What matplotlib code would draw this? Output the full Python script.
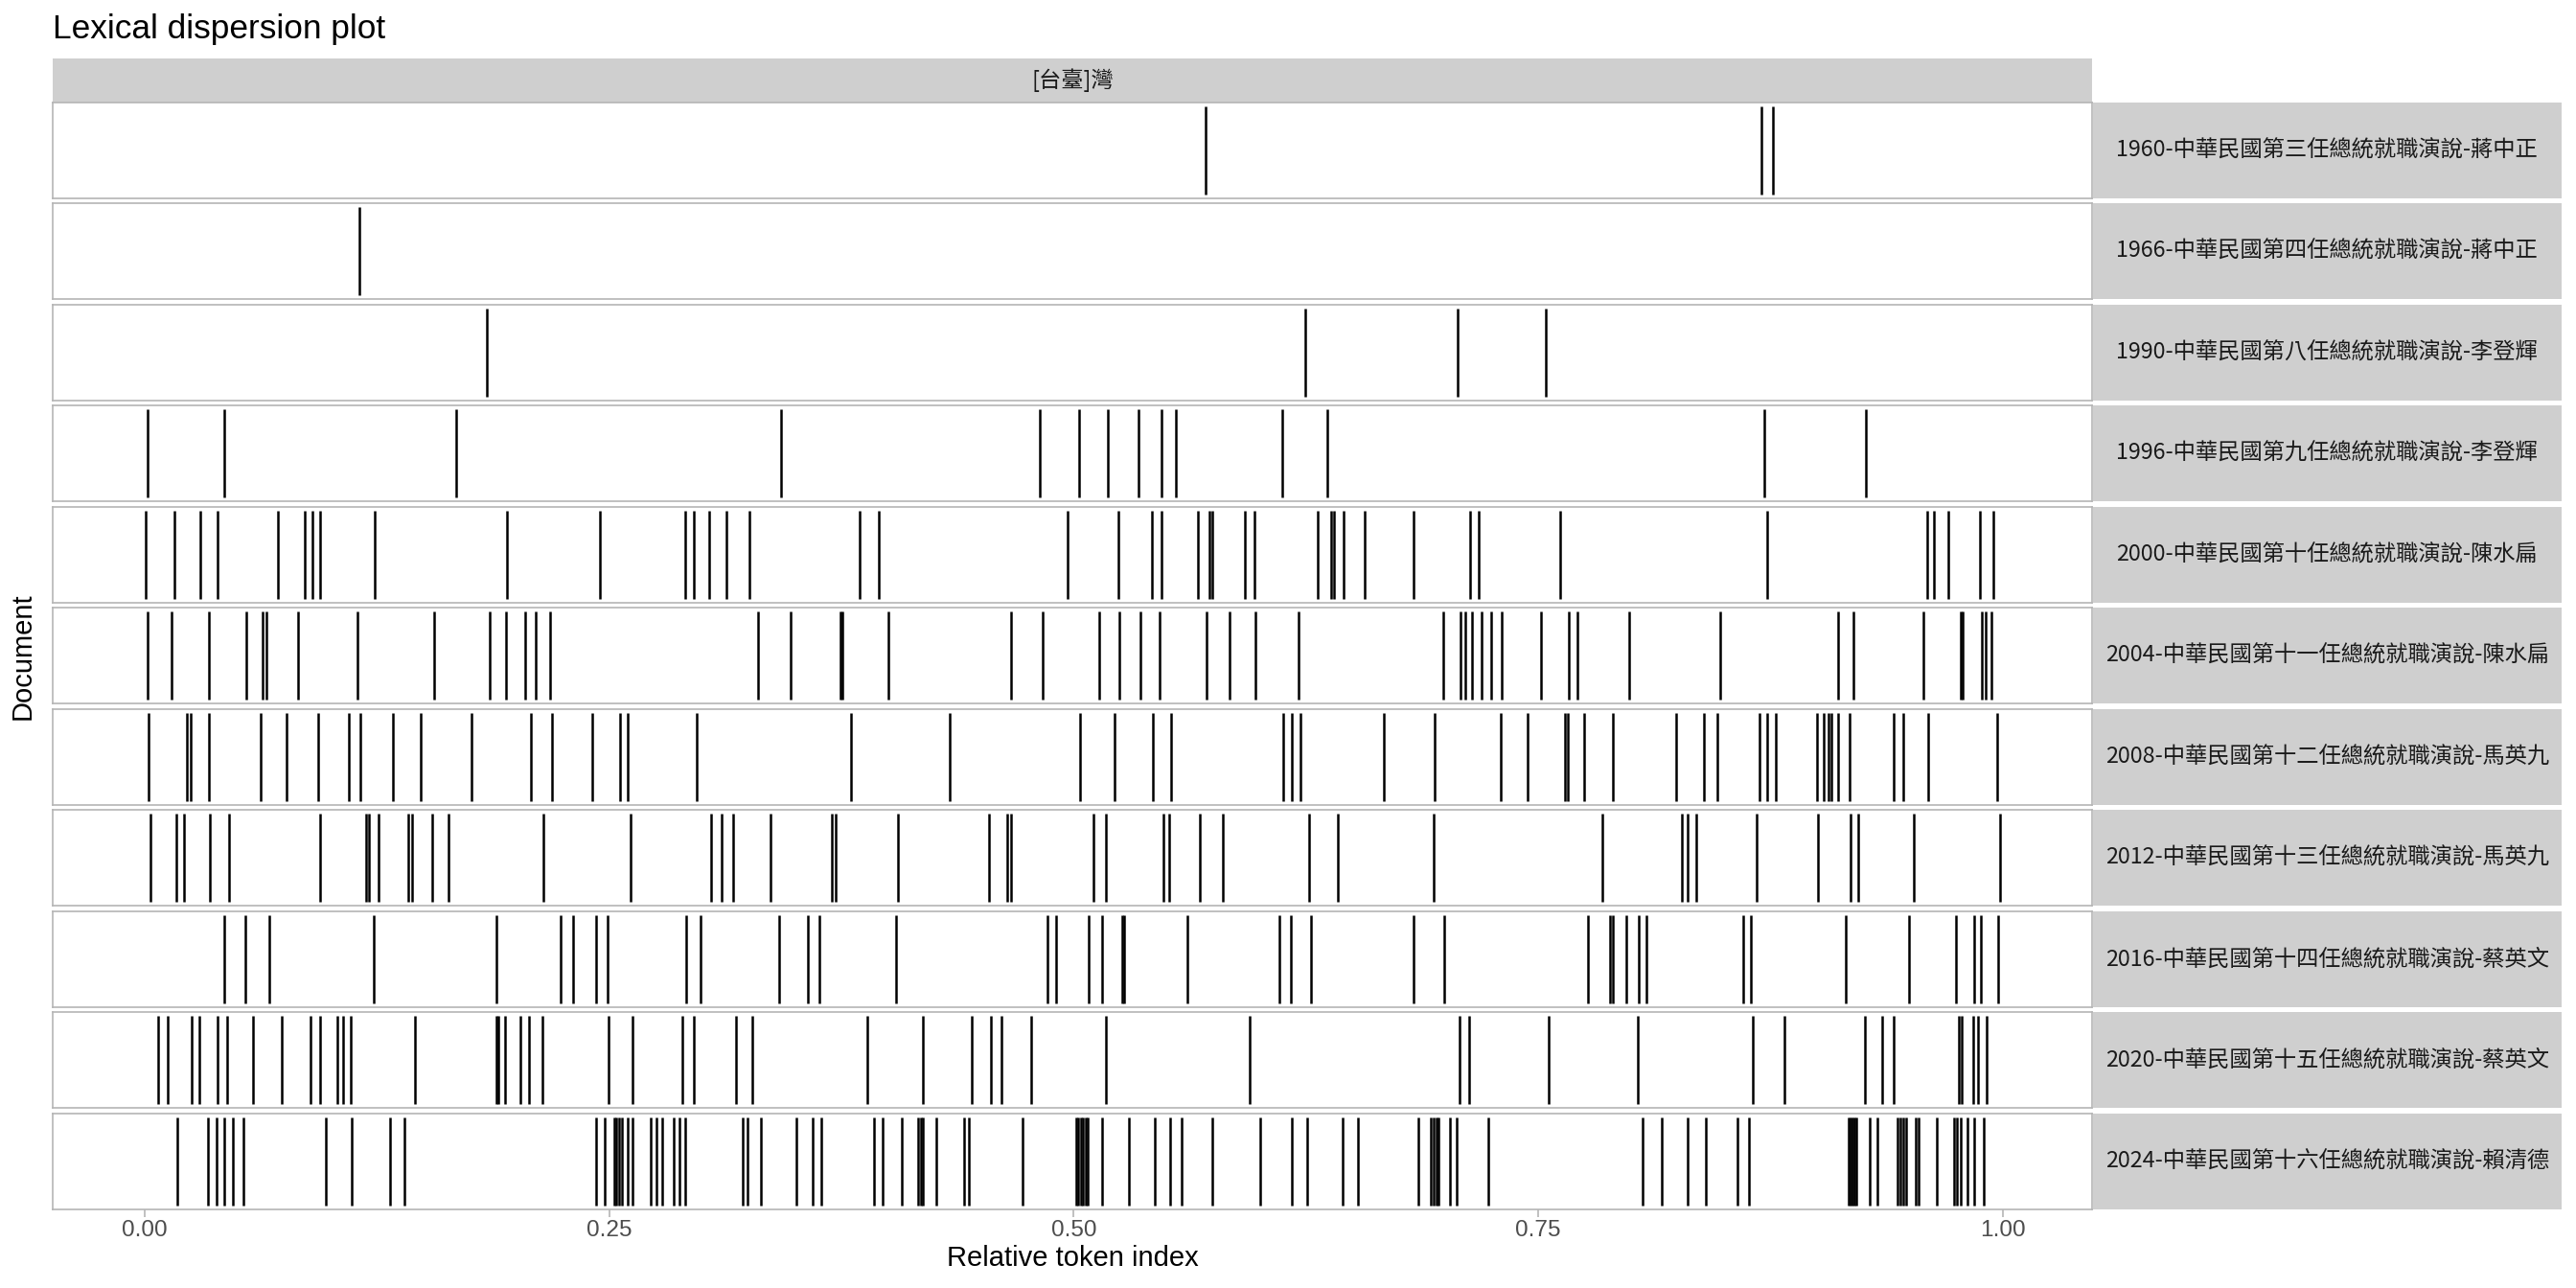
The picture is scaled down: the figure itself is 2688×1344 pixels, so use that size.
import matplotlib
matplotlib.use("Agg")
import matplotlib.pyplot as plt

#### Document labels (right strips) and the search pattern (top strip)
docs = [
    "1960-中華民國第三任總統就職演說-蔣中正",
    "1966-中華民國第四任總統就職演說-蔣中正",
    "1990-中華民國第八任總統就職演說-李登輝",
    "1996-中華民國第九任總統就職演說-李登輝",
    "2000-中華民國第十任總統就職演說-陳水扁",
    "2004-中華民國第十一任總統就職演說-陳水扁",
    "2008-中華民國第十二任總統就職演說-馬英九",
    "2012-中華民國第十三任總統就職演說-馬英九",
    "2016-中華民國第十四任總統就職演說-蔡英文",
    "2020-中華民國第十五任總統就職演說-蔡英文",
    "2024-中華民國第十六任總統就職演說-賴清德",
]
pattern = "[台臺]灣"

#### Relative token index of every hit, one list per speech
pos_1960 = [0.5709, 0.8701, 0.8763]
pos_1966 = [0.1156]
pos_1990 = [0.1843, 0.6247, 0.7067, 0.7542]
pos_1996 = [0.0017, 0.0429, 0.1676, 0.3426, 0.4817, 0.5031, 0.5182, 0.5351,
            0.5472, 0.5553, 0.6123, 0.6363, 0.8716, 0.9262]
pos_2000 = [0.0007, 0.0160, 0.0300, 0.0391, 0.0716, 0.0863, 0.0906, 0.0944,
            0.1241, 0.1951, 0.2449, 0.2911, 0.2957, 0.3038, 0.3130, 0.3256,
            0.3846, 0.3950, 0.4966, 0.5241, 0.5423, 0.5475, 0.5671, 0.5729,
            0.5745, 0.5921, 0.5974, 0.6312, 0.6387, 0.6403, 0.6452, 0.6566,
            0.6832, 0.7136, 0.7182, 0.7617, 0.8731, 0.9594, 0.9630, 0.9705,
            0.9880, 0.9949]
pos_2004 = [0.0017, 0.0147, 0.0349, 0.0548, 0.0638, 0.0658, 0.0828, 0.1146,
            0.1557, 0.1859, 0.1947, 0.2051, 0.2107, 0.2185, 0.3302, 0.3478,
            0.3745, 0.3758, 0.4005, 0.4666, 0.4835, 0.5140, 0.5244, 0.5358,
            0.5465, 0.5714, 0.5840, 0.5977, 0.6211, 0.6989, 0.7080, 0.7110,
            0.7143, 0.7195, 0.7249, 0.7305, 0.7517, 0.7663, 0.7712, 0.7988,
            0.8481, 0.9115, 0.9196, 0.9571, 0.9777, 0.9783, 0.9890, 0.9906,
            0.9939]
pos_2008 = [0.0023, 0.0228, 0.0247, 0.0349, 0.0625, 0.0762, 0.0937, 0.1101,
            0.1160, 0.1335, 0.1485, 0.1762, 0.2077, 0.2192, 0.2409, 0.2559,
            0.2602, 0.2973, 0.3800, 0.4334, 0.5033, 0.5218, 0.5426, 0.5524,
            0.6129, 0.6172, 0.6220, 0.6670, 0.6943, 0.7301, 0.7445, 0.7646,
            0.7660, 0.7748, 0.7904, 0.8243, 0.8392, 0.8467, 0.8692, 0.8731,
            0.8780, 0.9002, 0.9036, 0.9063, 0.9079, 0.9115, 0.9174, 0.9414,
            0.9466, 0.9597, 0.9972]
pos_2012 = [0.0033, 0.0173, 0.0215, 0.0352, 0.0453, 0.0947, 0.1195, 0.1208,
            0.1257, 0.1420, 0.1439, 0.1550, 0.1635, 0.2149, 0.2618, 0.3048,
            0.3104, 0.3168, 0.3367, 0.3699, 0.3719, 0.4057, 0.4546, 0.4643,
            0.4666, 0.5107, 0.5173, 0.5485, 0.5514, 0.5677, 0.5804, 0.6266,
            0.6423, 0.6937, 0.7846, 0.8273, 0.8305, 0.8353, 0.8676, 0.9008,
            0.9180, 0.9223, 0.9522, 0.9988]
pos_2016 = [0.0430, 0.0541, 0.0674, 0.1232, 0.1895, 0.2241, 0.2309, 0.2432,
            0.2494, 0.2914, 0.2993, 0.3416, 0.3568, 0.3630, 0.4044, 0.4858,
            0.4904, 0.5081, 0.5153, 0.5261, 0.5273, 0.5612, 0.6110, 0.6168,
            0.6276, 0.6832, 0.6996, 0.7770, 0.7888, 0.7904, 0.7972, 0.8044,
            0.8083, 0.8604, 0.8643, 0.9154, 0.9496, 0.9751, 0.9848, 0.9883,
            0.9978]
pos_2020 = [0.0075, 0.0124, 0.0254, 0.0293, 0.0391, 0.0443, 0.0583, 0.0739,
            0.0895, 0.0944, 0.1036, 0.1071, 0.1110, 0.1455, 0.1892, 0.1905,
            0.1938, 0.2022, 0.2068, 0.2139, 0.2497, 0.2628, 0.2895, 0.2957,
            0.3184, 0.3272, 0.3888, 0.4190, 0.4454, 0.4555, 0.4611, 0.4773,
            0.5172, 0.5947, 0.7077, 0.7129, 0.7555, 0.8034, 0.8655, 0.8828,
            0.9258, 0.9353, 0.9414, 0.9766, 0.9779, 0.9841, 0.9867, 0.9912]
pos_2024 = [0.0176, 0.0339, 0.0388, 0.0430, 0.0476, 0.0534, 0.0974, 0.1117,
            0.1322, 0.1400, 0.2432, 0.2478, 0.2527, 0.2539, 0.2553, 0.2569,
            0.2598, 0.2628, 0.2722, 0.2755, 0.2787, 0.2846, 0.2878, 0.2911,
            0.3220, 0.3243, 0.3315, 0.3506, 0.3595, 0.3644, 0.3927, 0.3972,
            0.4076, 0.4165, 0.4181, 0.4190, 0.4259, 0.4412, 0.4438, 0.4724,
            0.5012, 0.5026, 0.5039, 0.5052, 0.5064, 0.5078, 0.5153, 0.5296,
            0.5439, 0.5520, 0.5582, 0.5745, 0.6006, 0.6172, 0.6256, 0.6448,
            0.6530, 0.6855, 0.6921, 0.6937, 0.6953, 0.6966, 0.7028, 0.7063,
            0.7230, 0.8060, 0.8164, 0.8307, 0.8405, 0.8571, 0.8633, 0.9170,
            0.9180, 0.9190, 0.9200, 0.9213, 0.9284, 0.9326, 0.9434, 0.9450,
            0.9467, 0.9483, 0.9532, 0.9545, 0.9646, 0.9740, 0.9756, 0.9773,
            0.9812, 0.9847, 0.9899]

positions = [pos_1960, pos_1966, pos_1990, pos_1996, pos_2000, pos_2004,
             pos_2008, pos_2012, pos_2016, pos_2020, pos_2024]

xticks = [0.0, 0.25, 0.5, 0.75, 1.0]
xticklabels = ["0.00", "0.25", "0.50", "0.75", "1.00"]

#### Layout in pixels of the 2688x1344 canvas
W, H, DPI = 2688, 1344, 200
PANEL_L, PANEL_R, STRIP_R = 55, 2183, 2673
TOP0, PH, GAP = 106.7, 100.0, 5.5
STRIP_FILL = "#CFCFCF"
BORDER = "#B5B5B5"
latin = ["Liberation Sans", "DejaVu Sans"]
cjk = ["Noto Sans CJK TC", "DejaVu Sans"]


def box(x0, y0, x1, y1):
    return [x0 / W, 1 - y1 / H, (x1 - x0) / W, (y1 - y0) / H]


def strip(rect, label):
    ax = fig.add_axes(rect)
    ax.set_facecolor(STRIP_FILL)
    ax.set_xticks([])
    ax.set_yticks([])
    for s in ax.spines.values():
        s.set_visible(False)
    ax.text(0.5, 0.5, label, transform=ax.transAxes, ha="center", va="center",
            fontsize=8.4, family=cjk, color="#1A1A1A")
    return ax


fig = plt.figure(figsize=(W / DPI, H / DPI), dpi=DPI)

fig.text(PANEL_L / W, 1 - 40 / H, "Lexical dispersion plot", fontsize=12.7,
         family=latin, ha="left", va="baseline", color="black")

strip(box(PANEL_L, 61.4, PANEL_R, TOP0), pattern)

n = len(docs)
for i, (doc, pos) in enumerate(zip(docs, positions)):
    top = TOP0 + i * (PH + GAP)
    ax = fig.add_axes(box(PANEL_L, top, PANEL_R, top + PH))
    ax.vlines(pos, 0.04, 0.96, color="black", linewidth=0.9)
    ax.set_xlim(-0.0494, 1.0481)
    ax.set_ylim(0, 1)
    ax.set_yticks([])
    for s in ax.spines.values():
        s.set_color(BORDER)
        s.set_linewidth(0.6)
    if i == n - 1:
        ax.set_xticks(xticks)
        ax.set_xticklabels(xticklabels, family=latin, fontsize=8.8, color="#4D4D4D")
        ax.tick_params(axis="x", length=2.75, width=0.6, color=BORDER, pad=1.2)
    else:
        ax.set_xticks([])
    strip(box(PANEL_R + 0.7, top, STRIP_R, top + PH), doc)

fig.text((PANEL_L + PANEL_R) / 2 / W, 1 - 1313 / H, "Relative token index",
         fontsize=10.5, family=latin, ha="center", va="center")
fig.text(24 / W, 1 - (TOP0 + (n * PH + (n - 1) * GAP) / 2) / H, "Document",
         fontsize=10.5, family=latin, ha="center", va="center", rotation=90)

fig.savefig("out.png", dpi=DPI, facecolor="white")
